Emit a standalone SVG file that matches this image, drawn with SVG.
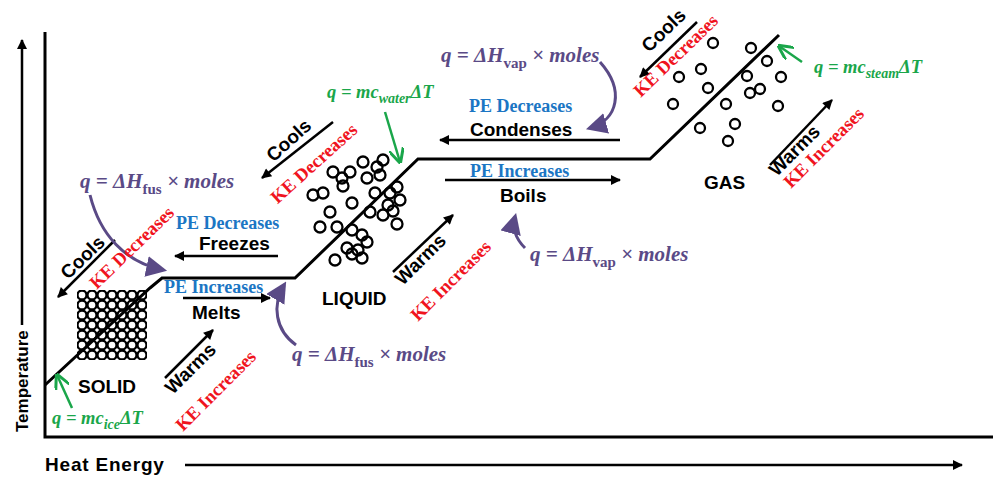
<svg xmlns="http://www.w3.org/2000/svg" width="1000" height="482" viewBox="0 0 1000 482">
<style>
.ln{fill:none;stroke:#000;stroke-width:3}
.ar{fill:none;stroke:#000;stroke-width:2.5;marker-end:url(#ah)}
.pa{fill:none;stroke:#5a4a86;stroke-width:3;marker-end:url(#ph)}
.ga{fill:none;stroke:#1aa64a;stroke-width:2.5;marker-end:url(#gh)}
.lb{font-family:"Liberation Sans",Arial,sans-serif;font-weight:bold;font-size:19px;fill:#000}
.bl{font-family:"Liberation Serif",serif;font-weight:bold;font-size:18px;fill:#1b76c4}
.rd{font-family:"Liberation Serif",serif;font-weight:bold;font-size:18.5px;fill:#f0141e}
.pu{font-family:"Liberation Serif",serif;font-weight:bold;font-style:italic;font-size:21px;fill:#5a4a86}
.gr{font-family:"Liberation Serif",serif;font-weight:bold;font-style:italic;font-size:18.5px;fill:#1aa64a}
.ax{font-family:"Liberation Sans",Arial,sans-serif;font-weight:bold;font-size:17px;fill:#000}
circle{fill:none;stroke:#000;stroke-width:2.3}
</style>
<defs>
<marker id="ah" viewBox="0 0 10 10" refX="9" refY="5" markerWidth="5" markerHeight="4" orient="auto" markerUnits="strokeWidth"><path d="M0,0L10,5L0,10z" fill="#000"/></marker>
<marker id="ph" viewBox="0 0 10 10" refX="8" refY="5" markerWidth="7" markerHeight="7" orient="auto" markerUnits="strokeWidth"><path d="M0,0L10,5L0,10z" fill="#5a4a86"/></marker>
<marker id="gh" viewBox="0 0 10 10" refX="9" refY="5" markerWidth="6" markerHeight="6" orient="auto" markerUnits="strokeWidth"><path d="M0,0L10,5L0,10" fill="none" stroke="#1aa64a" stroke-width="2"/></marker>
<pattern id="grid" x="77" y="290" width="10" height="10" patternUnits="userSpaceOnUse"><circle cx="5" cy="5" r="4.5"/></pattern>
</defs>
<g id="axes">
<path class="ln" d="M45,32V437H993" stroke-width="2.5"/>
<path class="ar" d="M22,325V40" stroke-width="1.5"/>
<text class="ax" transform="translate(28,432) rotate(-90)">Temperature</text>
<text class="ax" x="45" y="471" style="font-size:19px;letter-spacing:0.8px">Heat Energy</text>
<path class="ar" d="M185,465H962" stroke-width="1.5"/>
</g>
<g id="curve"><path class="ln" d="M45,385L150,288L162,278H295L418,159H650L779,35"/></g>
<g id="solid">
<rect x="77" y="290" width="70" height="70" fill="url(#grid)"/>
<text class="lb" x="78" y="393">SOLID</text>
</g>
<g id="liquid">
<g>
<circle cx="363" cy="162" r="5.5"/><circle cx="377" cy="167" r="5.5"/><circle cx="383" cy="160" r="5.5"/><circle cx="367" cy="178" r="5.5"/><circle cx="380" cy="175" r="5.5"/><circle cx="333" cy="172" r="5.5"/><circle cx="342" cy="178" r="5.5"/><circle cx="350" cy="172" r="5.5"/><circle cx="343" cy="186" r="5.5"/><circle cx="313" cy="195" r="5.5"/><circle cx="323" cy="193" r="5.5"/><circle cx="330" cy="212" r="5.5"/><circle cx="320" cy="227" r="5.5"/><circle cx="337" cy="227" r="5.5"/><circle cx="352" cy="203" r="5.5"/><circle cx="397" cy="187" r="5.5"/><circle cx="375" cy="193" r="5.5"/><circle cx="390" cy="193" r="5.5"/><circle cx="400" cy="200" r="5.5"/><circle cx="388" cy="205" r="5.5"/><circle cx="370" cy="212" r="5.5"/><circle cx="383" cy="215" r="5.5"/><circle cx="393" cy="211" r="5.5"/><circle cx="397" cy="224" r="5.5"/><circle cx="352" cy="230" r="5.5"/><circle cx="362" cy="235" r="5.5"/><circle cx="347" cy="248" r="5.5"/><circle cx="358" cy="250" r="5.5"/><circle cx="367" cy="242" r="5.5"/><circle cx="335" cy="260" r="5.5"/><circle cx="352" cy="254" r="5.5"/><circle cx="362" cy="258" r="5.5"/>
</g>
<text class="lb" x="322" y="305">LIQUID</text>
</g>
<g id="gas">
<circle cx="713" cy="43" r="5"/><circle cx="751" cy="48" r="5"/><circle cx="767" cy="61" r="5"/><circle cx="701" cy="69" r="5"/><circle cx="679" cy="77" r="5"/><circle cx="747" cy="76" r="5"/><circle cx="781" cy="77" r="5"/><circle cx="708" cy="88" r="5"/><circle cx="750" cy="93" r="5"/><circle cx="760" cy="89" r="5"/><circle cx="673" cy="104" r="5"/><circle cx="726" cy="104" r="5"/><circle cx="778" cy="106" r="5"/><circle cx="735" cy="124" r="5"/><circle cx="700" cy="128" r="5"/><circle cx="728" cy="141" r="5"/>
<text class="lb" x="704" y="189">GAS</text>
</g>
<g id="connectors">
<path class="ar" d="M115,240L58,297"/>
<path class="ar" d="M165,378L213,330"/>
<path class="ar" d="M278,256H175"/>
<path class="ar" d="M183,298H270"/>
<path class="ar" d="M333,122L262,178"/>
<path class="ar" d="M393,272L453,215"/>
<path class="ar" d="M620,140H440"/>
<path class="ar" d="M445,180H620"/>
<path class="ar" d="M697,22L640,77"/>
<path class="ar" d="M770,165L832,100"/>
<path class="pa" d="M90,195C100,235 125,262 163,270"/>
<path class="pa" d="M296,345C275,330 272,305 284,285"/>
<path class="pa" d="M600,62C625,90 618,120 590,128"/>
<path class="pa" d="M525,248C515,238 512,228 515,217"/>
<path class="ga" d="M72,408L57,375"/>
<path class="ga" d="M385,112L400,162"/>
<path class="ga" d="M802,62L779,46"/>
</g>
<g id="labels">
<text class="lb" transform="translate(87,262) rotate(-44)" text-anchor="middle">Cools</text>
<text class="rd" transform="translate(136,252) rotate(-44)" text-anchor="middle">KE Decreases</text>
<text class="lb" transform="translate(195,373) rotate(-45)" text-anchor="middle">Warms</text>
<text class="rd" transform="translate(220,395) rotate(-45)" text-anchor="middle">KE Increases</text>
<text class="bl" x="176" y="229">PE Decreases</text>
<text class="lb" x="199" y="250">Freezes</text>
<text class="bl" x="164" y="293">PE Increases</text>
<text class="lb" x="192" y="319">Melts</text>
<text class="lb" transform="translate(293,145) rotate(-42)" text-anchor="middle">Cools</text>
<text class="rd" transform="translate(318,168) rotate(-42)" text-anchor="middle">KE Decreases</text>
<text class="lb" transform="translate(425,264) rotate(-45)" text-anchor="middle">Warms</text>
<text class="rd" transform="translate(455,285) rotate(-45)" text-anchor="middle">KE Increases</text>
<text class="bl" x="469" y="112">PE Decreases</text>
<text class="lb" x="470" y="136">Condenses</text>
<text class="bl" x="470" y="177">PE Increases</text>
<text class="lb" x="500" y="202">Boils</text>
<text class="lb" transform="translate(668,35) rotate(-44)" text-anchor="middle">Cools</text>
<text class="rd" transform="translate(680,60) rotate(-44)" text-anchor="middle">KE Decreases</text>
<text class="lb" transform="translate(799,155) rotate(-45)" text-anchor="middle">Warms</text>
<text class="rd" transform="translate(828,152) rotate(-45)" text-anchor="middle">KE Increases</text>
<text class="pu" x="80" y="188">q = ΔH<tspan font-style="normal" font-size="15" dy="6">fus</tspan><tspan dy="-6"> × moles</tspan></text>
<text class="pu" x="292" y="361">q = ΔH<tspan font-style="normal" font-size="15" dy="6">fus</tspan><tspan dy="-6"> × moles</tspan></text>
<text class="pu" x="441" y="62">q = ΔH<tspan font-style="normal" font-size="15" dy="6">vap</tspan><tspan dy="-6"> × moles</tspan></text>
<text class="pu" x="530" y="261">q = ΔH<tspan font-style="normal" font-size="15" dy="6">vap</tspan><tspan dy="-6"> × moles</tspan></text>
<text class="gr" x="52" y="424">q = mc<tspan font-size="14" dy="5">ice</tspan><tspan dy="-5">ΔT</tspan></text>
<text class="gr" x="327" y="98">q = mc<tspan font-size="14" dy="5">water</tspan><tspan dy="-5">ΔT</tspan></text>
<text class="gr" x="814" y="73">q = mc<tspan font-size="14" dy="5">steam</tspan><tspan dy="-5">ΔT</tspan></text>
</g>
</svg>
